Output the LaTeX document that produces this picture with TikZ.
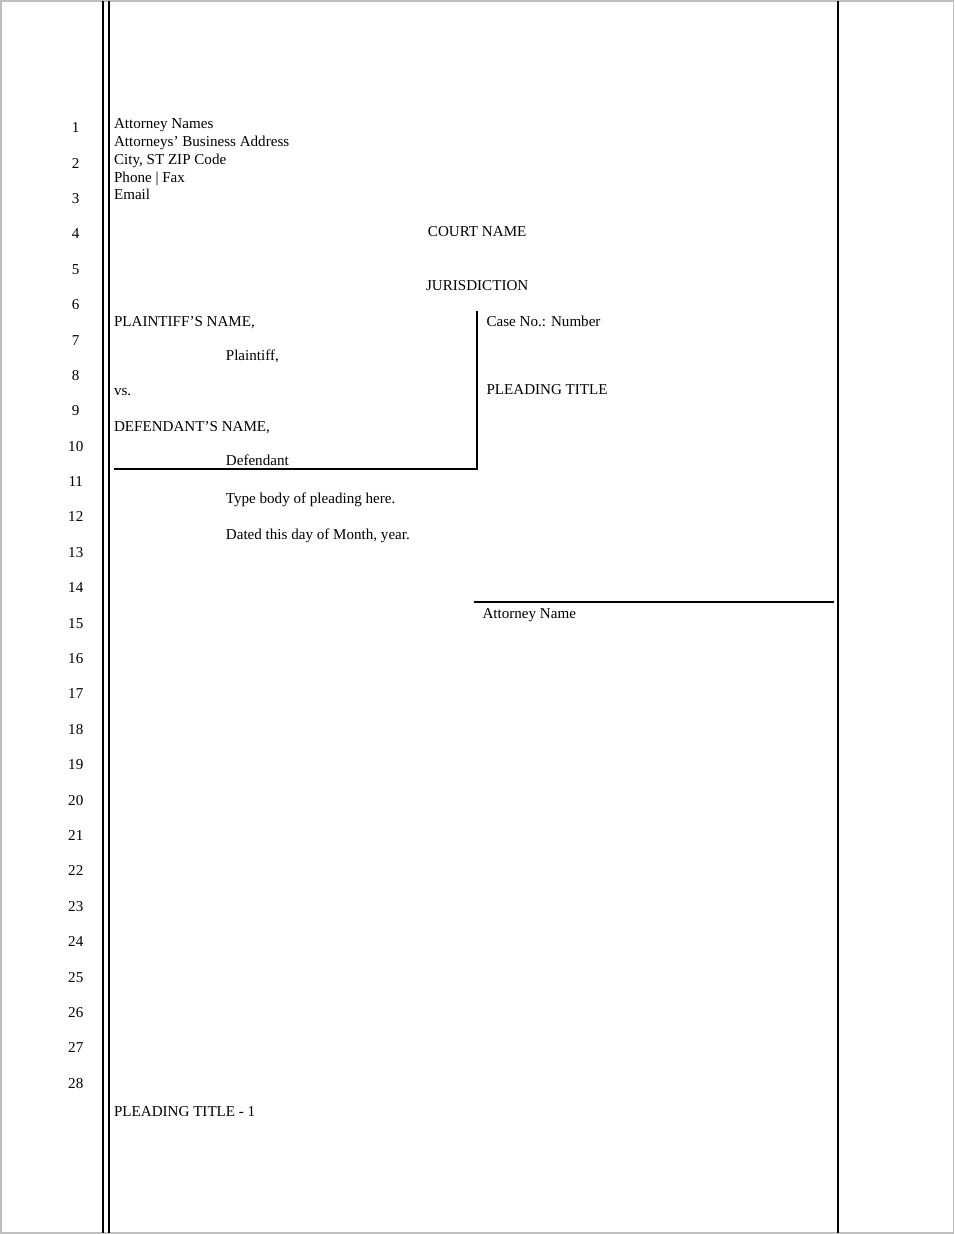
\documentclass[tikz,border=0pt]{standalone}
\usepackage{fontspec}
\setmainfont{Liberation Serif}
\usetikzlibrary{positioning}
\begin{document}
\begin{tikzpicture}[x=0.02cm,y=-0.02cm,font=\fontsize{8.6}{10}\selectfont,
  txt/.style={anchor=base west,inner sep=0pt},
  mid/.style={anchor=base,inner sep=0pt},
  rule/.style={line width=1.2pt}]
  % page frame
  \draw[black!25,line width=1pt] (0,0) rectangle (954,1234);
  \useasboundingbox (0,0) rectangle (954,1234);
  \draw[line width=1pt] (102,0) -- (102,1234);
  \draw[line width=1pt] (108,0) -- (108,1234);
  \draw[line width=1pt] (838,0) -- (838,1234);
  % line numbers
  \foreach \n in {1,...,28}
    \node[mid] (num\n) at (75,{132+(\n-1)*35.44}) {\n};
  % attorney block
  \node[txt] (atty)  at (113,128) {Attorney Names};
  \node[txt] (addr)  at (113,146) {Attorneys’ Business Address};
  \node[txt] (city)  at (113,164) {City, ST ZIP Code};
  \node[txt] (phone) at (113,182) {Phone | Fax};
  \node[txt] (email) at (113,199) {Email};
  % court
  \node[mid] (court) at (477,236) {COURT NAME};
  \node[mid] (juris) at (477,290) {JURISDICTION};
  % caption
  \node[txt] (plname) at (113,326) {PLAINTIFF'S NAME,};
  \node[txt] (pl)     at (225,360) {Plaintiff,};
  \node[txt] (vs)     at (113,395) {vs.};
  \node[txt] (dfname) at (113,431) {DEFENDANT'S NAME,};
  \node[txt] (df)     at (225,465) {Defendant};
  \draw[rule] (113,469) -- (477,469) -- (477,311);
  \node[txt] (caseno) at (486,326) {Case No.: Number};
  \node[txt] (title)  at (486,394) {PLEADING TITLE};
  % body
  \node[txt] (body)  at (225,503) {Type body of pleading here.};
  \node[txt] (dated) at (225,539) {Dated this day of Month, year.};
  \draw[rule] (474,602) -- (834,602);
  \node[txt] (sign) at (482,618) {Attorney Name};
  % footer
  \node[txt] (foot) at (113,1117) {PLEADING TITLE - 1};
\end{tikzpicture}
\end{document}
